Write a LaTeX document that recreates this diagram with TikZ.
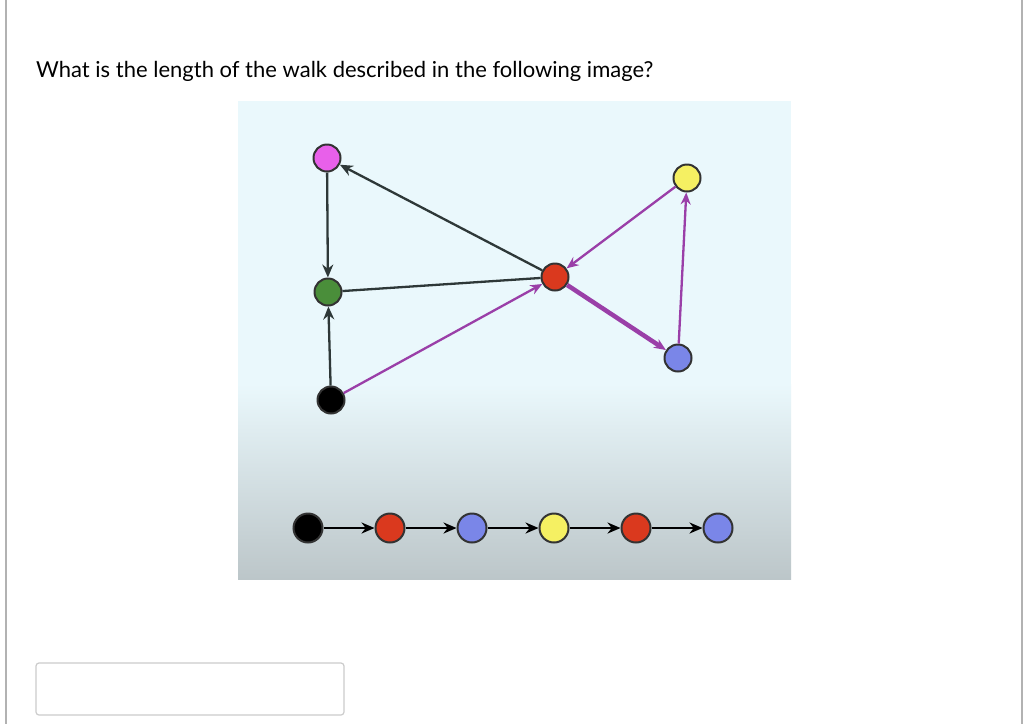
\documentclass[tikz,border=0pt]{standalone}
\usepackage{fontspec}
\setmainfont{Lato}
\usepackage{tikz}
\usetikzlibrary{positioning}
\usetikzlibrary{arrows.meta}
\definecolor{panelcyan}{HTML}{EAF8FC}
\definecolor{panelgray}{HTML}{BCC6C9}
\definecolor{edgegray}{HTML}{2E3838}
\definecolor{walkpurple}{HTML}{9A3FA8}
\tikzset{vertex/.style={circle, draw=black!80, line width=2pt, minimum size=27pt, inner sep=0pt},
         link/.style={draw=edgegray, line width=2.3pt, -{Stealth[length=13pt,width=11pt]}},
         walk/.style={draw=walkpurple, line width=2.3pt, -{Stealth[length=12pt,width=10pt]}}}

\begin{document}
\begin{tikzpicture}[x=1pt, y=-1pt]
    \useasboundingbox (0,0) rectangle (1024,724);
    \fill[white] (0,0) rectangle (1024,724);
    \draw[black!30, line width=1.5pt] (6,0) -- (6,724);
    \draw[black!30, line width=1.5pt] (1022,0) -- (1022,724);
    \node[anchor=base west, font=\fontsize{22}{26}\selectfont, inner sep=0pt] (question) at (36,77)
        {What is the length of the walk described in the following image?};
    % picture panel
    \fill[panelcyan] (238,101) rectangle (791,385);
    \shade[top color=panelcyan, bottom color=panelgray] (238,384) rectangle (791,579);
    % the graph
    \node[vertex, fill={rgb,255:red,232;green,96;blue,234}] (pink) at (327,158) {};
    \node[vertex, fill={rgb,255:red,74;green,142;blue,58}] (green) at (328,292) {};
    \node[vertex, fill=black] (black) at (331,400) {};
    \node[vertex, fill={rgb,255:red,218;green,57;blue,30}] (red) at (555,277) {};
    \node[vertex, fill={rgb,255:red,245;green,240;blue,98}] (yellow) at (687,178) {};
    \node[vertex, fill={rgb,255:red,122;green,134;blue,232}] (blue) at (678,358) {};
    \draw[link] (pink) -- (green);
    \draw[link] (black) -- (green);
    \draw[link] (red) -- (pink);
    \draw[draw=edgegray, line width=2.3pt] (green) -- (red);
    \draw[walk] (black) -- (red);
    \draw[walk, line width=4.5pt] (red) -- (blue);
    \draw[walk] (blue) -- (yellow);
    \draw[walk] (yellow) -- (red);
    % the walk as a row
    \begin{scope}[node distance=51pt]
    \node[vertex, minimum size=29pt, fill=black] (w0) at (308,528) {};
    \node[vertex, minimum size=29pt, fill={rgb,255:red,218;green,57;blue,30}, right=of w0] (w1) {};
    \node[vertex, minimum size=29pt, fill={rgb,255:red,122;green,134;blue,232}, right=of w1] (w2) {};
    \node[vertex, minimum size=29pt, fill={rgb,255:red,245;green,240;blue,98}, right=of w2] (w3) {};
    \node[vertex, minimum size=29pt, fill={rgb,255:red,218;green,57;blue,30}, right=of w3] (w4) {};
    \node[vertex, minimum size=29pt, fill={rgb,255:red,122;green,134;blue,232}, right=of w4] (w5) {};
    \end{scope}
    \foreach \a/\b in {w0/w1, w1/w2, w2/w3, w3/w4, w4/w5}
        \draw[link, draw=black] (\a) -- (\b);
    % answer box
    \draw[black!20, line width=1.2pt, rounded corners=3pt] (36,663) rectangle (344,715);
\end{tikzpicture}
\end{document}
